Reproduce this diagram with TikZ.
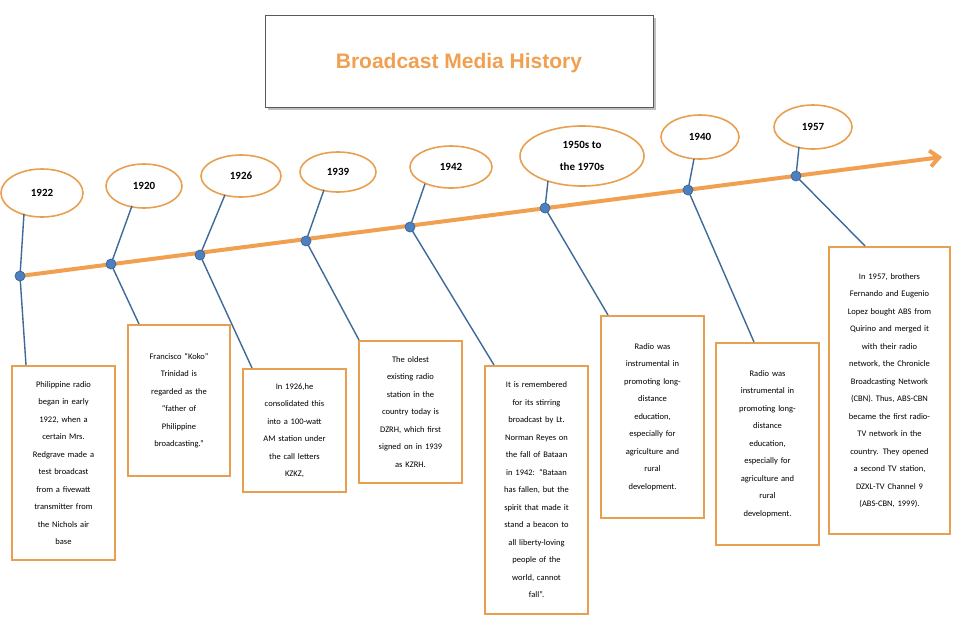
\documentclass[tikz,border=0pt]{standalone}
\usepackage{fontspec}
\usetikzlibrary{arrows.meta,shapes.geometric,calc}
\setmainfont{Carlito}
\newfontfamily\titlefont{Liberation Sans}
\definecolor{org}{HTML}{F0A050}
\definecolor{boxorg}{HTML}{E8A050}
\definecolor{dotblue}{HTML}{4F7FBF}
\definecolor{lineblue}{HTML}{3E6A9A}
\begin{document}
\begin{tikzpicture}[x=1pt,y=-1pt,
  yr/.style={ellipse,draw=boxorg,line width=1.6pt,fill=white,font=\bfseries\fontsize{11}{13}\selectfont,inner sep=0pt},
  dot/.style={circle,fill=dotblue,draw=lineblue,line width=0.8pt,minimum size=10pt,inner sep=0pt},
  con/.style={lineblue,line width=1.4pt},
  txt/.style={draw=boxorg,line width=2pt,fill=white,align=center,font=\fontsize{8.5}{17.5}\selectfont,inner sep=2pt}]
\useasboundingbox (0,0) rectangle (960,633);
\fill[white] (0,0) rectangle (960,633);
% title
\fill[gray!50] (268,18) rectangle (656,110);
\node[draw=gray!70!black,fill=white,line width=0.8pt,minimum width=388pt,minimum height=92pt] (title) at (459,61) {};
\node[font=\titlefont\bfseries\fontsize{21}{24}\selectfont,text=org] (ttext) at (459,63) {Broadcast Media History};
% main arrow
\coordinate (s) at (20,276);
\coordinate (e) at (942,157);
\draw[org,line width=4pt,-{Straight Barb[length=9pt,width=16pt]}] (s) -- (e);
% year ellipses
\node[yr,minimum width=82pt,minimum height=48pt] (y1) at (42,193) {1922};
\node[yr,minimum width=76pt,minimum height=44pt] (y2) at (144,186) {1920};
\node[yr,minimum width=80pt,minimum height=42pt] (y3) at (241,176) {1926};
\node[yr,minimum width=76pt,minimum height=40pt] (y4) at (338,172) {1939};
\node[yr,minimum width=82pt,minimum height=42pt] (y5) at (451,167) {1942};
\node[yr,minimum width=124pt,minimum height=60pt,align=center,font=\bfseries\fontsize{11}{22}\selectfont] (y6) at (582,156) {1950s to\\the 1970s};
\node[yr,minimum width=78pt,minimum height=44pt] (y7) at (700,137) {1940};
\node[yr,minimum width=78pt,minimum height=44pt] (y8) at (813,127) {1957};
% boxes
\node[txt,text width=96pt,minimum width=103pt,minimum height=194pt] (b1) at (63.5,463) {Philippine radio\\began in early\\1922, when a\\certain Mrs.\\Redgrave made a\\test broadcast\\from a fivewatt\\transmitter from\\the Nichols air\\base};
\node[txt,text width=96pt,minimum width=102pt,minimum height=151pt] (b2) at (179,400.5) {Francisco ``Koko''\\Trinidad is\\regarded as the\\``father of\\Philippine\\broadcasting.''};
\node[txt,text width=96pt,minimum width=103pt,minimum height=123pt] (b3) at (294.5,430.5) {In 1926,he\\consolidated this\\into a 100-watt\\AM station under\\the call letters\\KZKZ,};
\node[txt,text width=96pt,minimum width=103pt,minimum height=142pt] (b4) at (410.5,412) {The oldest\\existing radio\\station in the\\country today is\\DZRH, which first\\signed on in 1939\\as KZRH.};
\node[txt,text width=96pt,minimum width=103pt,minimum height=248pt] (b5) at (536.5,490) {It is remembered\\for its stirring\\broadcast by Lt.\\Norman Reyes on\\the fall of Bataan\\in 1942: ``Bataan\\has fallen, but the\\spirit that made it\\stand a beacon to\\all liberty-loving\\people of the\\world, cannot\\fall''.};
\node[txt,text width=96pt,minimum width=103pt,minimum height=202pt] (b6) at (652.5,417) {Radio was\\instrumental in\\promoting long-\\distance\\education,\\especially for\\agriculture and\\rural\\development.};
\node[txt,text width=96pt,minimum width=103pt,minimum height=202pt] (b7) at (767.5,444) {Radio was\\instrumental in\\promoting long-\\distance\\education,\\especially for\\agriculture and\\rural\\development.};
\node[txt,text width=114pt,minimum width=121pt,minimum height=287pt] (b8) at (889.5,390.5) {In 1957, brothers\\Fernando and Eugenio\\Lopez bought ABS from\\Quirino and merged it\\with their radio\\network, the Chronicle\\Broadcasting Network\\(CBN). Thus, ABS-CBN\\became the first radio-\\TV network in the\\country. They opened\\a second TV station,\\DZXL-TV Channel 9\\(ABS-CBN, 1999).};
% dots
\foreach \n/\x/\y in {d1/20/276,d2/111/264,d3/200/255,d4/306/241,d5/410/227,d6/545/208,d7/688/190,d8/796/176}
  \coordinate (\n) at (\x,\y);
% connectors
\draw[con] ($(y1.south)+(-18,-4)$) -- (d1);
\draw[con] ($(y2.south)+(-12,-3)$) -- (d2);
\draw[con] ($(y3.south)+(-16,-3)$) -- (d3);
\draw[con] ($(y4.south)+(-14,-3)$) -- (d4);
\draw[con] ($(y5.south)+(-26,-5)$) -- (d5);
\draw[con] ($(y6.south)+(-34,-6)$) -- (d6);
\draw[con] ($(y7.south)+(-6,-1)$) -- (d7);
\draw[con] ($(y8.south)+(-14,-3)$) -- (d8);
\draw[con] (d1) -- ($(b1.north west)+(15,0)$);
\draw[con] (d2) -- ($(b2.north west)+(12,0)$);
\draw[con] (d3) -- ($(b3.north west)+(10,0)$);
\draw[con] (d4) -- ($(b4.north west)+(1,0)$);
\draw[con] (d5) -- ($(b5.north west)+(10,0)$);
\draw[con] (d6) -- ($(b6.north west)+(8,0)$);
\draw[con] (d7) -- ($(b7.north west)+(39,0)$);
\draw[con] (d8) -- ($(b8.north west)+(37,0)$);
% dots on top
\foreach \n in {d1,d2,d3,d4,d5,d6,d7,d8}
  \node[dot] at (\n) {};
\end{tikzpicture}
\end{document}
